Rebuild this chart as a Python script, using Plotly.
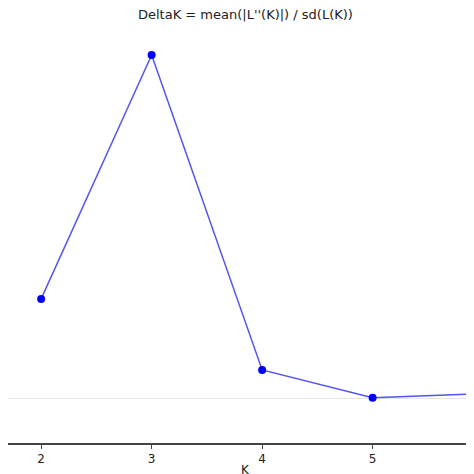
import plotly.graph_objects as go

K = [2, 3, 4, 5, 6]
delta_k = [28.9, 100.0, 8.2, 0.1, 1.3]

fig = go.Figure(go.Scatter(x=K, y=delta_k, mode="lines+markers",
    line=dict(color="#5555ee", width=1.5),
    marker=dict(color="#0000ee", size=8), cliponaxis=False))
fig.update_layout(
    width=474, height=474, margin=dict(l=0, r=0, t=0, b=39),
    plot_bgcolor="white", paper_bgcolor="white", showlegend=False,
    font=dict(family="DejaVu Sans", color="#222", size=12),
    annotations=[dict(text="DeltaK = mean(|L''(K)|) / sd(L(K))", x=0.5, y=1.0,
        xref="paper", yref="paper", yanchor="middle", showarrow=False,
        font=dict(size=13), yshift=-6)],
)
fig.update_xaxes(range=[1.70, 5.99], tickvals=[2, 3, 4, 5], showgrid=False,
    zeroline=False, showline=True, linecolor="#444", linewidth=2,
    ticks="outside", ticklen=4, tickcolor="#444",
    title=dict(text="K", standoff=0, font=dict(size=12)))
fig.update_yaxes(range=[-13.1, 113.7], showticklabels=False, showgrid=False,
    zeroline=True, zerolinecolor="#e6e6e6", zerolinewidth=1)
fig.write_html("out.html")
